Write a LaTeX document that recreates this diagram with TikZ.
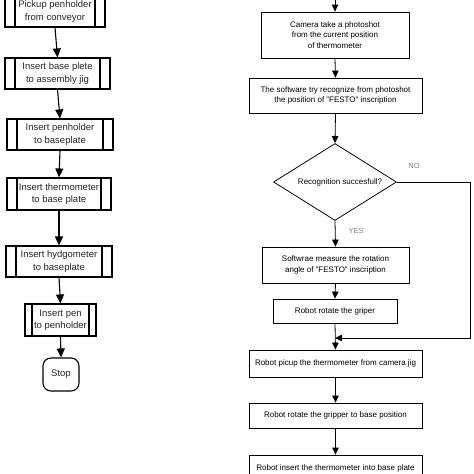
\documentclass[tikz,border=0pt]{standalone}
\usepackage{fontspec}
\setmainfont{Liberation Sans}
\usetikzlibrary{shapes.geometric,arrows.meta}
\begin{document}
\begin{tikzpicture}[x=1pt,y=-1pt,
  lbox/.style={draw, line width=1.1pt, inner sep=0pt, align=center,
    font=\fontsize{9.5}{12.5}\selectfont, text=black!85},
  pp/.style={lbox, path picture={
    \draw[line width=1.1pt] ([xshift=#1]path picture bounding box.north west) -- ([xshift=#1]path picture bounding box.south west);
    \draw[line width=1.1pt] ([xshift=-#1]path picture bounding box.north east) -- ([xshift=-#1]path picture bounding box.south east);}},
  rbox/.style={draw, line width=0.8pt, inner sep=0pt, align=center,
    font=\fontsize{8}{10.5}\selectfont},
  larr/.style={-{Triangle[length=9pt,width=8pt]}, line width=1.1pt},
  rarr/.style={-{Triangle[length=7pt,width=6.5pt]}, line width=0.8pt},
  lab/.style={font=\fontsize{7.5}{9}\selectfont, text=black!50}
]
\clip (0,0) rectangle (474,474);
\useasboundingbox (0,0) rectangle (474,474);
% left column
\node[pp=10pt, minimum width=100pt, minimum height=31pt] (L1) at (55,11.5) {Pickup penholder\\from conveyor};
\node[pp=10pt, minimum width=105pt, minimum height=31pt] (L2) at (57.5,73.5) {Insert base plete\\to assembly jig};
\node[pp=10pt, minimum width=106pt, minimum height=31pt] (L3) at (60,134.5) {Insert penholder\\to baseplate};
\node[pp=10pt, minimum width=104pt, minimum height=32pt] (L4) at (59,194) {Insert thermometer\\to base plate};
\node[pp=10pt, minimum width=106pt, minimum height=31pt] (L5) at (59,261.5) {Insert hydgometer\\to baseplate};
\node[pp=7pt, minimum width=71pt, minimum height=32pt] (L6) at (60.5,320) {Insert pen\\to penholder};
\node[lbox, rounded corners=8pt, minimum width=36pt, minimum height=33pt] (ST) at (61,374.5) {Stop};
\draw[larr] (L1.south) -- (L2.north);
\draw[larr] (L2.south) -- (L3.north);
\draw[larr] (L3.south) -- (L4.north);
\draw[larr] (L4.south) -- (L5.north);
\draw[larr] (L5.south) -- (L6.north);
\draw[larr] (L6.south) -- (ST.north);
% right column
\coordinate (top) at (335,-2);
\node[rbox, minimum width=148pt, minimum height=46pt] (R1) at (335,35) {Camera take a photoshot\\from the current position\\of thermometer};
\node[rbox, minimum width=173pt, minimum height=35pt] (R2) at (335.5,95.5) {The software try recognize from photoshot\\the position of "FESTO" inscription};
\node[diamond, draw, line width=0.8pt, inner sep=0pt, aspect=1.6, minimum width=123pt, minimum height=77pt,
  font=\fontsize{8}{10.5}\selectfont] (D) at (335,182) {\hspace{10pt}Recognition succesfull?};
\node[rbox, minimum width=147pt, minimum height=36pt] (R3) at (335.5,265) {Softwrae measure the rotation\\angle of "FESTO" inscription};
\node[rbox, minimum width=124pt, minimum height=24pt] (R4) at (335,311) {Robot rotate the griper};
\node[rbox, minimum width=173pt, minimum height=27pt] (R5) at (335.5,363.5) {Robot picup the thermometer from camera jig};
\node[rbox, minimum width=173pt, minimum height=25pt] (R6) at (335.5,415.5) {Robot rotate the gripper to base position};
\node[rbox, minimum width=173pt, minimum height=27pt] (R7) at (335.5,468.5) {Robot insert the thermometer into base plate};
\node[lab] (NO) at (414,166) {NO};
\node[lab] (YES) at (356,231) {YES};
\draw[rarr] (top) -- (R1.north);
\draw[rarr] (R1.south) -- (R2.north);
\draw[rarr] (R2.south) -- (D.north);
\draw[rarr] (D.south) -- (R3.north);
\draw[rarr] (R3.south) -- (R4.north);
\draw[rarr] (R4.south) -- (R5.north);
\coordinate (J) at (R4.south |- 0,338);
\draw[rarr] (D.east) -- (470,182) -- (470,338) -- (J);
\draw[rarr] (R5.south) -- (R6.north);
\draw[rarr] (R6.south) -- (R7.north);
\end{tikzpicture}
\end{document}
